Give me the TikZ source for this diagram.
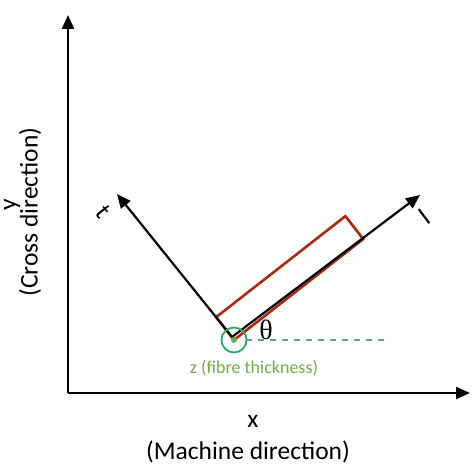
\documentclass[tikz,border=0pt]{standalone}
\usepackage{fontspec}
\setmainfont{Carlito}
\newfontfamily\thetafont{Liberation Serif}
\usepackage{tikz}
\usetikzlibrary{arrows.meta,calc}

\definecolor{fibrered}{RGB}{170,42,16}
\definecolor{zgreen}{RGB}{112,173,71}
\definecolor{ringgreen}{RGB}{40,170,100}
\definecolor{dashblue}{RGB}{91,155,213}

\tikzset{
  axis/.style={line width=1.2pt, -{Triangle[length=7pt,width=6pt]}},
  fibreaxis/.style={line width=1.1pt, -{Triangle[length=7pt,width=6pt]}},
  lbl/.style={font=\fontsize{12.75}{15}\selectfont, inner sep=0pt}
}

\begin{document}
\begin{tikzpicture}[x=0.5pt, y=0.5pt]
      \useasboundingbox (0,0) rectangle (474,474);
      \coordinate (O) at (68, 81);
      \coordinate (ytip) at (68, 459);
      \coordinate (xtip) at (470, 81);
      \coordinate (V) at (232, 137);
      \coordinate (ttip) at (117, 280);
      \coordinate (ltip) at (420, 279);
      \coordinate (Z) at (234, 134);
      \coordinate (dashend) at (385, 134);
      % main axes
      \draw[axis] (O) -- (ytip);
      \draw[axis] (O) -- (xtip);
      % fibre
      \draw[fibrered, line width=1.3pt, rotate around={38:(Z)}] (Z) rectangle ++(164, 29);
      \draw[fibreaxis] (V) -- (ttip);
      \draw[fibreaxis] (V) -- (ltip);
      \draw[dashblue, dashed, line width=0.7pt] ($(Z)+(12,0)$) -- (dashend);
      \draw[ringgreen, line width=0.9pt] (Z) circle (12.5);
      \fill[zgreen] (Z) circle (3);
      % labels
      \node[lbl, font=\thetafont\fontsize{14}{16}\selectfont] (theta) at (266, 144) {θ};
      \node[lbl, zgreen, font=\fontsize{9}{11}\selectfont] (zlab) at (254, 106) {z (fibre thickness)};
      \node[lbl] (xlab) at (253, 53) {x};
      \node[lbl] (xdir) at (248, 22) {(Machine direction)};
      \node[lbl, rotate=90] (ylab) at (12, 269) {y};
      \node[lbl, rotate=90] (ydir) at (30, 262) {(Cross direction)};
      \node[lbl, rotate=-51] (tlab) at (103, 262) {t};
      \node[lbl, rotate=37] (llab) at (424, 257) {l};
\end{tikzpicture}
\end{document}
